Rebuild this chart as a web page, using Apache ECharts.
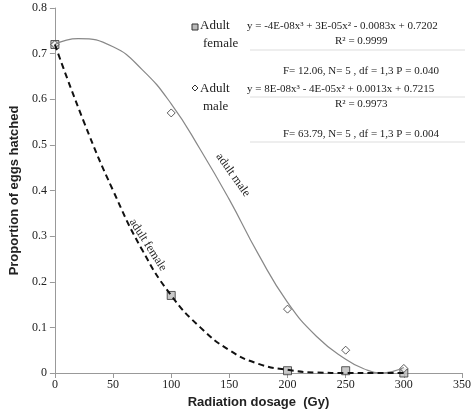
<!DOCTYPE html><html><head><meta charset="utf-8"><script src="https://cdn.jsdelivr.net/npm/echarts@6/dist/echarts.min.js"></script></head><body style="margin:0"><div id="c" style="width:474px;height:414px"></div><script>
var doses=[0,100,200,250,300];
var female=[0.72,0.17,0.005,0.005,0.0];
var male=[0.72,0.57,0.14,0.05,0.01];
var maleCurveX=[0,20,50,75,100,125,150,175,200,225,250,265,280,290,300];
var maleCurveY=[0.72,0.733,0.715,0.665,0.59,0.49,0.38,0.26,0.155,0.08,0.03,0.01,0.0,0.003,0.012];
var femCurveX=[0,25,50,75,100,125,150,175,200,225,250,275,300];
var femCurveY=[0.72,0.55,0.40,0.27,0.17,0.10,0.05,0.02,0.007,0.001,0.0,0.0,0.0];
var zip=(a,b)=>a.map((v,i)=>[v,b[i]]);
var serif='Liberation Serif';
var ch=echarts.init(document.getElementById('c'));
function t(x,y,s,fs){return {type:'text',left:x,top:y,style:{text:s,font:(fs||11)+'px "Liberation Serif"',fill:'#222'}};}
function ln(y){return {type:'line',shape:{x1:250,y1:y,x2:465,y2:y},style:{stroke:'#ddd',lineWidth:1}};}
ch.setOption({
 animation:false,
 grid:{left:48,right:9,top:8,bottom:41},
 xAxis:{type:'value',min:0,max:350,interval:50,splitLine:{show:false},axisLine:{lineStyle:{color:'#999'}},axisTick:{show:true,lineStyle:{color:'#999'}},axisLabel:{fontFamily:serif,fontSize:12,color:'#222',margin:6},name:'Radiation dosage  (Gy)',nameLocation:'middle',nameGap:22,nameTextStyle:{fontFamily:'Liberation Sans',fontWeight:'bold',fontSize:13,color:'#222'}},
 yAxis:{type:'value',min:0,max:0.8,interval:0.1,splitLine:{show:false},axisLine:{show:true,lineStyle:{color:'#999'}},axisTick:{show:true,lineStyle:{color:'#999'}},axisLabel:{fontFamily:serif,fontSize:12,color:'#222',formatter:v=>+v.toFixed(1)+''},name:'Proportion of eggs hatched',nameLocation:'middle',nameGap:32,nameTextStyle:{fontFamily:'Liberation Sans',fontWeight:'bold',fontSize:13,color:'#222'}},
 series:[
  {type:'line',data:zip(maleCurveX,maleCurveY),smooth:true,symbol:'none',lineStyle:{color:'#888',width:1.2}},
  {type:'line',data:zip(femCurveX,femCurveY),smooth:true,symbol:'none',lineStyle:{color:'#111',width:2,type:[6,4]}},
  {type:'scatter',data:zip(doses,female),symbol:'rect',symbolSize:8,itemStyle:{color:'#bbb',borderColor:'#333',borderWidth:1}},
  {type:'scatter',data:zip(doses,male),symbol:'diamond',symbolSize:8,itemStyle:{color:'#fff',borderColor:'#333',borderWidth:1}}
 ],
 graphic:[
  ln(50),ln(97),ln(142),
  {type:'rect',shape:{x:192,y:24,width:6,height:6},style:{fill:'#bbb',stroke:'#333'}},
  t(200,19,'Adult',13),t(203,37,'female',13),
  t(247,21,'y = -4E-08x³ + 3E-05x² - 0.0083x + 0.7202'),t(335,36,'R² = 0.9999'),
  t(283,66,'F= 12.06, N= 5 , df = 1,3 P = 0.040'),
  {type:'polygon',shape:{points:[[195,85],[198,88],[195,91],[192,88]]},style:{fill:'#fff',stroke:'#333'}},
  t(200,82,'Adult',13),t(203,100,'male',13),
  t(247,84,'y = 8E-08x³ - 4E-05x² + 0.0013x + 0.7215'),t(335,99,'R² = 0.9973'),
  t(283,129,'F= 63.79, N= 5 , df = 1,3 P = 0.004'),
  {type:'text',x:233,y:175,rotation:-0.95,style:{text:'adult male',font:'12px "Liberation Serif"',fill:'#222',align:'center',verticalAlign:'middle'}},
  {type:'text',x:148,y:245,rotation:-1.0,style:{text:'adult female',font:'12px "Liberation Serif"',fill:'#222',align:'center',verticalAlign:'middle'}}
 ]
});
</script></body></html>
